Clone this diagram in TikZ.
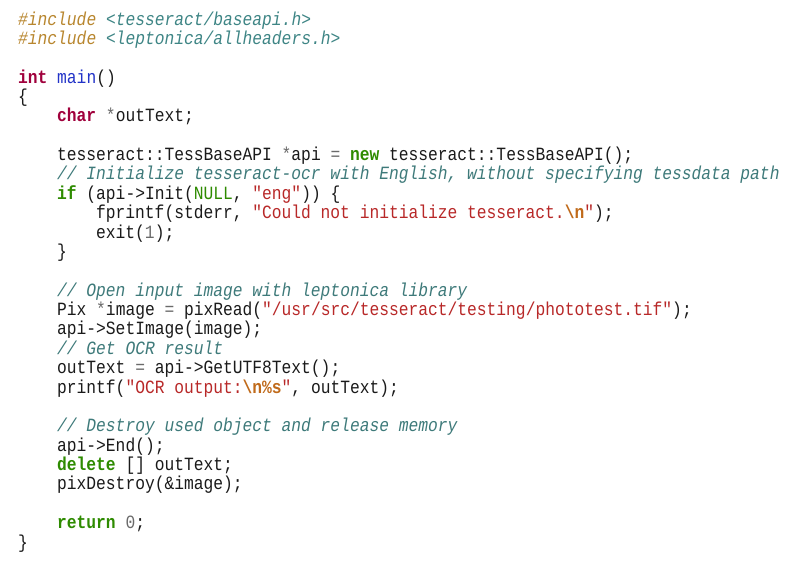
\documentclass[tikz,border=0pt]{standalone}
\usepackage{fontspec}
\setmonofont{Liberation Mono}
\definecolor{pp}{HTML}{B8862E}
\definecolor{hdr}{HTML}{3E8585}
\definecolor{kwr}{HTML}{A0003C}
\definecolor{kwg}{HTML}{2E8B00}
\definecolor{fn}{HTML}{2233C8}
\definecolor{cm}{HTML}{3E7A7A}
\definecolor{st}{HTML}{B82828}
\definecolor{esc}{HTML}{C06A1A}
\definecolor{nm}{HTML}{6A6A6A}
\definecolor{tx}{HTML}{1A1A1A}
\newcommand{\PP}[1]{{\color{pp}\itshape #1}}
\newcommand{\HD}[1]{{\color{hdr}\itshape #1}}
\newcommand{\KR}[1]{{\color{kwr}\bfseries #1}}
\newcommand{\KG}[1]{{\color{kwg}\bfseries #1}}
\newcommand{\FN}[1]{{\color{fn}#1}}
\newcommand{\CM}[1]{{\color{cm}\itshape #1}}
\newcommand{\ST}[1]{{\color{st}#1}}
\newcommand{\ES}[1]{{\color{esc}\bfseries #1}}
\newcommand{\NM}[1]{{\color{nm}#1}}
\newcommand{\NL}{{\color{kwg}NULL}}
\begin{document}
\begin{tikzpicture}[x=1pt,y=1pt,
  ln/.style={anchor=base west,inner sep=0pt,text=tx,xscale=0.87,transform shape,font=\ttfamily\fontsize{18.7}{22}\selectfont}]
\fill[white] (0,0) rectangle (800,-571);
\useasboundingbox (0,0) rectangle (800,-571);
\def\L#1{-25-19.37*#1}
\node[ln] (l0) at (18,{\L{0}}) {\PP{\#include} \HD{<tesseract/baseapi.h>}};
\node[ln] (l1) at (18,{\L{1}}) {\PP{\#include} \HD{<leptonica/allheaders.h>}};
\node[ln] (l3) at (18,{\L{3}}) {\KR{int} \FN{main}()};
\node[ln] (l4) at (18,{\L{4}}) {\{};
\node[ln] (l5) at (57,{\L{5}}) {\KR{char} \NM{*}outText;};
\node[ln] (l7) at (57,{\L{7}}) {tesseract::TessBaseAPI \NM{*}api \NM{=} \KG{new} tesseract::TessBaseAPI();};
\node[ln] (l8) at (57,{\L{8}}) {\CM{// Initialize tesseract-ocr with English, without specifying tessdata path}};
\node[ln] (l9) at (57,{\L{9}}) {\KG{if} (api->Init(\NL, \ST{"eng"})) \{};
\node[ln] (l10) at (96,{\L{10}}) {fprintf(stderr, \ST{"Could not initialize tesseract.}\ES{\textbackslash n}\ST{"});};
\node[ln] (l11) at (96,{\L{11}}) {exit(\NM{1});};
\node[ln] (l12) at (57,{\L{12}}) {\}};
\node[ln] (l14) at (57,{\L{14}}) {\CM{// Open input image with leptonica library}};
\node[ln] (l15) at (57,{\L{15}}) {Pix \NM{*}image \NM{=} pixRead(\ST{"/usr/src/tesseract/testing/phototest.tif"});};
\node[ln] (l16) at (57,{\L{16}}) {api->SetImage(image);};
\node[ln] (l17) at (57,{\L{17}}) {\CM{// Get OCR result}};
\node[ln] (l18) at (57,{\L{18}}) {outText \NM{=} api->GetUTF8Text();};
\node[ln] (l19) at (57,{\L{19}}) {printf(\ST{"OCR output:}\ES{\textbackslash n\%s}\ST{"}, outText);};
\node[ln] (l21) at (57,{\L{21}}) {\CM{// Destroy used object and release memory}};
\node[ln] (l22) at (57,{\L{22}}) {api->End();};
\node[ln] (l23) at (57,{\L{23}}) {\KG{delete} [] outText;};
\node[ln] (l24) at (57,{\L{24}}) {pixDestroy(\&image);};
\node[ln] (l26) at (57,{\L{26}}) {\KG{return} \NM{0};};
\node[ln] (l27) at (18,{\L{27}}) {\}};
\end{tikzpicture}
\end{document}
